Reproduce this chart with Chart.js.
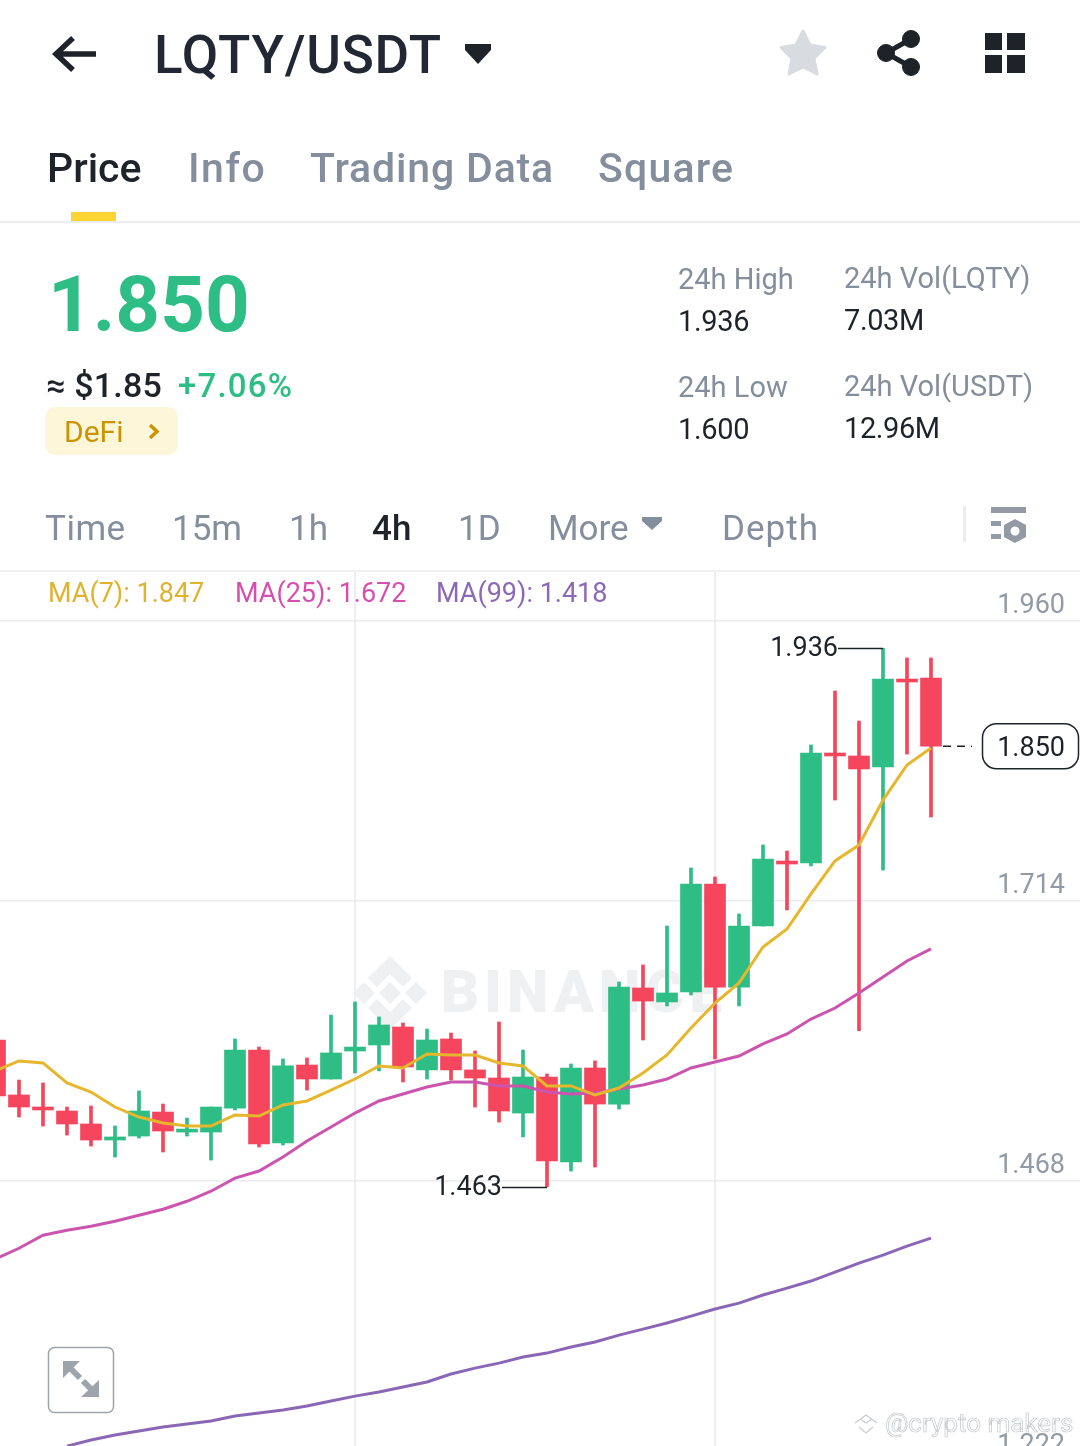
<!DOCTYPE html>
<html>
<head>
<meta charset="utf-8">
<title>LQTY/USDT</title>
<script src="https://cdn.jsdelivr.net/npm/chart.js@4"></script>
<style>
  html, body { margin: 0; padding: 0; background: #fff; }
  body { position: relative; width: 1080px; height: 1446px; overflow: hidden; font-family: Roboto, sans-serif; color: #1e2329; }
  .t { position: absolute; white-space: nowrap; line-height: 1; }
  .g { color: #848e9c; }
  .up { color: #2ebd85; }
  #chart { position: absolute; left: 0; top: 572px; z-index: 2; }
  #icons { position: absolute; left: 0; top: 0; z-index: 3; }
  #mark { position: absolute; left: 0; top: 0; z-index: 1; }
  .over { z-index: 4; }
</style>
</head>
<body>

<!-- icons and other furniture around the chart -->
<svg id="mark" width="1080" height="1446">
  <g fill="#eef0f1">
    <polygon points="390,956 412,978 403,987 390,974 377,987 368,978"/>
    <polygon points="390,1030 412,1008 403,999 390,1012 377,999 368,1008"/>
    <polygon points="390,982 401,993 390,1004 379,993"/>
    <polygon points="364,982 375,993 364,1004 353,993"/>
    <polygon points="416,982 427,993 416,1004 405,993"/>
  </g>
</svg>
<div class="t" style="left:441px;top:962px;font-size:59px;font-weight:900;letter-spacing:5px;color:#eef0f1;z-index:1">BINANCE</div>

<svg id="icons" width="1080" height="1446">
  <path d="M96 54H56M73 38L56 54L73 70" fill="none" stroke="#1e2329" stroke-width="5.5"/>
  <polygon points="465,44 491,44 491,50 478,64 465,50" fill="#1e2329"/>
  <path d="M803 31L810 45L825 47.5L814 58.5L817 74L803 67L789 74L792 58.5L781 47.5L796 45Z" fill="#d8dbe0" stroke="#d8dbe0" stroke-width="3" stroke-linejoin="round"/>
  <g fill="#1e2329" stroke="#1e2329">
    <circle cx="911" cy="39" r="8.5"/><circle cx="886" cy="53" r="8.5"/><circle cx="911" cy="67" r="8.5"/>
    <path d="M911 39L886 53L911 67" fill="none" stroke-width="5"/>
  </g>
  <g fill="#1e2329">
    <rect x="985" y="33" width="17" height="17"/><rect x="1007" y="33" width="18" height="17"/>
    <rect x="985" y="55" width="17" height="18"/><rect x="1007" y="55" width="18" height="18"/>
  </g>
  <rect x="71" y="212" width="45" height="9" fill="#fcd535"/>
  <rect x="0" y="221" width="1080" height="2" fill="#eaecef"/>
  <rect x="45" y="407" width="133" height="48" rx="10" fill="#fef6d8"/>
  <path d="M150 425L157 431.5L150 438" fill="none" stroke="#c99400" stroke-width="3.5"/>
  <polygon points="642,517 662,517 662,521 652,530 642,521" fill="#848e9c"/>
  <rect x="963" y="506" width="3" height="36" fill="#eaecef"/>
  <g fill="#939aa5">
    <rect x="991" y="507" width="35" height="6"/><rect x="991" y="521" width="10" height="5"/><rect x="991" y="534" width="10" height="5"/>
    <path fill-rule="evenodd" d="M1015 519L1026 525V537L1015 543L1004 537V525ZM1015 526.500a4.500 4.500 0 1 0 .01 0Z"/>
  </g>
  <rect x="0" y="570" width="1080" height="2" fill="#f0f1f3"/>
  <rect x="48.500" y="1347.500" width="65" height="65" rx="6" fill="#fff" stroke="#9ea4ab" stroke-width="1.500"/>
  <g fill="#9ea4ab" stroke="#9ea4ab">
    <polygon points="63,1361 80,1361 63,1378" stroke="none"/>
    <path d="M69 1367L80 1378" stroke-width="6" fill="none"/>
    <polygon points="99,1397 81,1397 99,1380" stroke="none"/>
    <path d="M93 1391L83 1381" stroke-width="6" fill="none"/>
  </g>
  <g fill="none" stroke="#c8ccd0" stroke-width="1.200">
    <path d="M855 1423L866 1415L877 1423M859 1427L866 1433L873 1427M860 1419L866 1423L872 1419"/>
  </g>
</svg>

<div class="t over" style="left:154px;top:29px;font-size:53px;font-weight:500;letter-spacing:.8px;color:#212833">LQTY/USDT</div>
<div class="t over" style="left:47px;top:148px;font-size:41px;font-weight:500;">Price</div>
<div class="t over g" style="left:188px;top:148px;font-size:41px;font-weight:500;letter-spacing:1.5px">Info</div>
<div class="t over g" style="left:310px;top:148px;font-size:41px;font-weight:500;letter-spacing:.85px">Trading Data</div>
<div class="t over g" style="left:598px;top:148px;font-size:41px;font-weight:500;letter-spacing:1.2px">Square</div>

<div class="t over up" style="left:48px;top:266px;font-size:78px;font-weight:700">1.850</div>
<div class="t over" style="left:46px;top:368px;font-size:34px;font-weight:500;letter-spacing:.2px">≈ $1.85</div>
<div class="t over up" style="left:178px;top:369px;font-size:33px;font-weight:500;letter-spacing:1.2px">+7.06%</div>
<div class="t over" style="left:64px;top:417px;font-size:30px;color:#c99400">DeFi</div>

<div class="t over g" style="left:678px;top:265px;font-size:29px">24h High</div>
<div class="t over" style="left:678px;top:307px;font-size:29px;letter-spacing:-.3px">1.936</div>
<div class="t over g" style="left:678px;top:373px;font-size:29px">24h Low</div>
<div class="t over" style="left:678px;top:415px;font-size:29px;letter-spacing:-.3px">1.600</div>
<div class="t over g" style="left:844px;top:264px;font-size:29px">24h Vol(LQTY)</div>
<div class="t over" style="left:844px;top:306px;font-size:29px;letter-spacing:-.4px">7.03M</div>
<div class="t over g" style="left:844px;top:372px;font-size:29px">24h Vol(USDT)</div>
<div class="t over" style="left:844px;top:414px;font-size:29px;letter-spacing:-.4px">12.96M</div>

<div class="t over g" style="left:45px;top:511px;font-size:35px;letter-spacing:.5px">Time</div>
<div class="t over g" style="left:172px;top:511px;font-size:35px">15m</div>
<div class="t over g" style="left:289px;top:511px;font-size:35px">1h</div>
<div class="t over" style="left:372px;top:511px;font-size:35px;font-weight:500">4h</div>
<div class="t over g" style="left:458px;top:511px;font-size:35px">1D</div>
<div class="t over g" style="left:548px;top:511px;font-size:35px">More</div>
<div class="t over g" style="left:722px;top:511px;font-size:35px;letter-spacing:1px">Depth</div>

<div class="t over" style="left:48px;top:580px;font-size:27px;color:#e0b22e">MA(7): 1.847</div>
<div class="t over" style="left:235px;top:580px;font-size:27px;color:#d64fae">MA(25): 1.672</div>
<div class="t over" style="left:436px;top:580px;font-size:27px;color:#8b68b8">MA(99): 1.418</div>

<div class="t over" style="left:885px;top:1410px;font-size:26px;color:#fff;-webkit-text-stroke:.7px #c4c8cc">@crypto makers</div>

<canvas id="chart" width="1080" height="898"></canvas>

<script>
// candles, oldest first
let candleIndex = [0,1,2,3,4,5,6,7,8,9,10,11,12,13,14,15,16,17,18,19,20,21,22,23,24,25,26,27,28,29,30,31,32,33,34,35,36,37,38,39];
let opens = [1.5919,1.5436,1.5321,1.5295,1.5181,1.5040,1.5075,1.5286,1.5110,1.5110,1.5321,1.5831,1.5014,1.5699,1.5576,1.5822,1.5875,1.6033,1.5656,1.5928,1.5656,1.5585,1.5277,1.5594,1.4847,1.5673,1.5356,1.6376,1.6253,1.6341,1.7289,1.6384,1.6920,1.7483,1.7474,1.8440,1.8414,1.8317,1.9090,1.9099];
let highs = [1.5919,1.5567,1.5541,1.5330,1.5339,1.5163,1.5471,1.5356,1.5233,1.5330,1.5928,1.5857,1.5752,1.5761,1.6138,1.6253,1.6121,1.6068,1.6015,1.5980,1.5822,1.6077,1.5831,1.5620,1.5708,1.5735,1.6428,1.6578,1.6920,1.7430,1.7351,1.7026,1.7632,1.7579,1.8511,1.8985,1.8721,1.9360,1.9275,1.9275];
let lows = [1.5427,1.5242,1.5163,1.5084,1.4987,1.4891,1.5058,1.4935,1.5075,1.4864,1.5304,1.4979,1.4996,1.5479,1.5576,1.5629,1.5647,1.5550,1.5576,1.5567,1.5330,1.5198,1.5067,1.4630,1.4768,1.4803,1.5312,1.5919,1.6218,1.6314,1.5752,1.6218,1.6920,1.7061,1.7448,1.8027,1.6000,1.7412,1.8431,1.7878];
let closes = [1.5427,1.5330,1.5304,1.5181,1.5040,1.5067,1.5295,1.5119,1.5128,1.5330,1.5831,1.5005,1.5691,1.5576,1.5805,1.5857,1.6051,1.5682,1.5919,1.5656,1.5585,1.5295,1.5594,1.4856,1.5673,1.5356,1.6384,1.6261,1.6332,1.7289,1.6384,1.6920,1.7509,1.7465,1.8440,1.8414,1.8300,1.9090,1.9064,1.8500];

// moving averages
let ma7 = [1.5647,1.5735,1.5717,1.5541,1.5462,1.5330,1.5242,1.5189,1.5163,1.5163,1.5260,1.5251,1.5348,1.5383,1.5479,1.5576,1.5691,1.5673,1.5796,1.5787,1.5787,1.5717,1.5691,1.5515,1.5515,1.5436,1.5497,1.5629,1.5787,1.6024,1.6244,1.6420,1.6736,1.6894,1.7202,1.7492,1.7632,1.8027,1.8335,1.8485];
let ma25 = [1.3994,1.4089,1.4204,1.4247,1.4283,1.4326,1.4379,1.4432,1.4502,1.4590,1.4705,1.4768,1.4891,1.5031,1.5154,1.5277,1.5383,1.5444,1.5506,1.5550,1.5550,1.5515,1.5515,1.5462,1.5444,1.5453,1.5488,1.5523,1.5576,1.5673,1.5726,1.5778,1.5884,1.5972,1.6103,1.6200,1.6332,1.6473,1.6613,1.6719];
let ma99 = [null,null,null,1.2351,1.2404,1.2448,1.2483,1.2518,1.2545,1.2571,1.2615,1.2641,1.2668,1.2703,1.2747,1.2790,1.2826,1.2870,1.2914,1.2984,1.3036,1.3080,1.3133,1.3168,1.3221,1.3265,1.3326,1.3379,1.3432,1.3493,1.3555,1.3607,1.3678,1.3739,1.3801,1.3880,1.3959,1.4029,1.4108,1.4178];

// y axis labels and the marks that carry a value label
let priceTicks = [1.960, 1.714, 1.468, 1.222];
let verticalGridAt = [15, 30];
let highLabel = { index: 37, value: 1.936, text: '1.936' };
let lowLabel = { index: 23, value: 1.463, text: '1.463' };
let lastPrice = 1.850;

const GREEN = '#2ebd85';
const RED = '#f6465d';
const INK = '#1e2329';

// a candle is green when it closes above its open
let candleColors = [];
for (let i = 0; i < candleIndex.length; i++) {
  candleColors.push(closes[i] >= opens[i] ? GREEN : RED);
}

function maData(values) {
  return candleIndex.map(function (x, i) { return { x: x, y: values[i] }; });
}

function maLine(values, color) {
  return {
    type: 'line',
    data: maData(values),
    borderColor: color,
    borderWidth: 3,
    pointRadius: 0,
    tension: 0,
    order: 0
  };
}

// leader lines, last price box
let pricePlugin = {
  id: 'priceLabels',
  afterDatasetsDraw: function (chart) {
    let ctx = chart.ctx;
    let xs = chart.scales.x;
    let ys = chart.scales.y;
    ctx.save();
    ctx.font = '27px Roboto';
    ctx.fillStyle = INK;
    ctx.strokeStyle = INK;
    ctx.lineWidth = 1.5;
    ctx.textAlign = 'right';
    ctx.textBaseline = 'middle';

    [highLabel, lowLabel].forEach(function (m) {
      let x = xs.getPixelForValue(m.index);
      let y = Math.round(ys.getPixelForValue(m.value)) + 0.5;
      ctx.beginPath();
      ctx.moveTo(x, y);
      ctx.lineTo(x - 45, y);
      ctx.stroke();
      ctx.fillText(m.text, x - 45, y + 1);
    });

    let y = ys.getPixelForValue(lastPrice);
    ctx.setLineDash([8, 6]);
    ctx.beginPath();
    ctx.moveTo(xs.getPixelForValue(39) + 12, y);
    ctx.lineTo(972, y);
    ctx.stroke();
    ctx.setLineDash([]);

    ctx.beginPath();
    ctx.roundRect(982.5, y - 22.5, 96, 45, 14);
    ctx.fillStyle = '#fff';
    ctx.fill();
    ctx.stroke();
    ctx.fillStyle = INK;
    ctx.fillText(lastPrice.toFixed(3), 1065, y + 3);
    ctx.restore();
  }
};

let options = {
  type: 'bar',
  data: {
    datasets: [
      maLine(ma7, '#e6b62c'),
      maLine(ma25, '#cb55ae'),
      maLine(ma99, '#8a67b5'),
      {
        // body
        data: candleIndex.map(function (x, i) { return { x: x, y: [opens[i], closes[i]] }; }),
        backgroundColor: candleColors,
        barThickness: 21,
        minBarLength: 3,
        grouped: false,
        order: 1
      },
      {
        // wick
        data: candleIndex.map(function (x, i) { return { x: x, y: [lows[i], highs[i]] }; }),
        backgroundColor: candleColors,
        barThickness: 3,
        grouped: false,
        order: 2
      }
    ]
  },
  options: {
    responsive: false,
    animation: false,
    layout: { padding: 0 },
    plugins: { legend: { display: false }, tooltip: { enabled: false } },
    scales: {
      x: {
        type: 'linear',
        offset: false,
        min: 0.2083,
        max: 45.2083,
        border: { display: false },
        grid: { color: '#eeeff4', lineWidth: 2, drawTicks: false, offset: false },
        ticks: { display: false, autoSkip: false },
        afterBuildTicks: function (scale) {
          scale.ticks = verticalGridAt.map(function (v) { return { value: v }; });
        },
        afterFit: function (scale) { scale.height = 0; }
      },
      y: {
        position: 'right',
        min: 1.2141,
        max: 2.00305,
        border: { display: false },
        grid: { color: '#eaecef', lineWidth: 1.5, drawTicks: false },
        ticks: {
          mirror: true,
          padding: -15,
          labelOffset: -15,
          color: '#929aa5',
          font: { family: 'Roboto', size: 27 },
          autoSkip: false,
          callback: function (v) { return v.toFixed(3); }
        },
        afterBuildTicks: function (scale) {
          scale.ticks = priceTicks.map(function (v) { return { value: v }; });
        },
        afterFit: function (scale) {
          // mirrored labels should not take room from the plot
          scale.width = 0;
          scale.paddingTop = 0;
          scale.paddingBottom = 0;
        }
      }
    }
  },
  plugins: [pricePlugin]
};

let chart = new Chart(document.getElementById('chart'), options);
</script>
</body>
</html>
